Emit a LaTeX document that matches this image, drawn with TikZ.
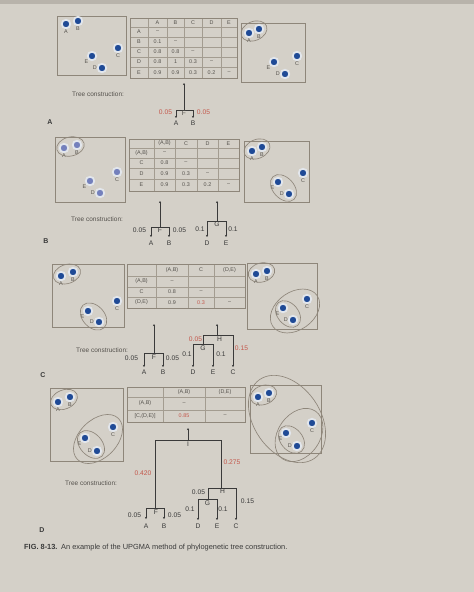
\documentclass[tikz,border=0pt]{standalone}
\usepackage{fontspec}
\setmainfont{Liberation Sans}
\usetikzlibrary{arrows.meta}
\definecolor{bg}{HTML}{D4D0C8}
\definecolor{edge}{HTML}{B8B3AB}
\definecolor{frame}{HTML}{8E867A}
\definecolor{gridc}{HTML}{A39C90}
\definecolor{ink}{HTML}{3A3A3A}
\definecolor{greyt}{HTML}{55524D}
\definecolor{redlab}{HTML}{C4584C}
\definecolor{dotblue}{HTML}{1F4A96}
\definecolor{halo}{HTML}{E2E6EC}
\definecolor{fadeblue}{HTML}{7480BC}
\tikzset{
  boxn/.style={draw=frame, line width=0.8pt, rectangle, inner sep=0pt, anchor=north west},
  clus/.style={draw=frame, line width=0.65pt},
  tgrid/.style={draw=gridc, line width=0.5pt},
  tframe/.style={draw=frame, line width=0.7pt},
  tline/.style={draw=ink, line width=0.7pt},
  leaf/.style={tline, -{Stealth[length=2.2pt,width=2.2pt]}},
  root/.style={tline, {Stealth[length=2.2pt,width=2.2pt]}-},
  lab/.style={font=\fontsize{6.7}{7}\selectfont, text=ink, inner sep=0pt},
  rlab/.style={lab, text=redlab},
  tcell/.style={font=\fontsize{5.4}{6}\selectfont, text=greyt, inner sep=0pt},
  rcell/.style={tcell, text=redlab},
  dlab/.style={font=\fontsize{5.4}{6}\selectfont, text=greyt, inner sep=0pt},
  dotn/.style={circle, fill=dotblue, draw=halo, line width=1.8pt, minimum size=8.5pt, inner sep=0pt, label distance=0.4pt},
  fdot/.style={dotn, fill=fadeblue, draw=halo},
  sect/.style={font=\fontsize{7}{8}\selectfont\bfseries, text=ink, inner sep=0pt},
  tc/.style={font=\fontsize{6.5}{7}\selectfont, text=greyt, inner sep=0pt, anchor=west}
}
\newcommand\clusell[5]{\draw[clus,shift={(#1,#2)},rotate=#3] (0,0) ellipse [x radius=#4, y radius=#5];}
\begin{document}
\begin{tikzpicture}[x=1pt,y=-1pt]
\useasboundingbox (0,0) rectangle (474,592);
\fill[bg] (0,0) rectangle (474,592);
\fill[edge] (0,0) rectangle (474,4);

% ================= ROW A =================
\node[boxn, minimum width=69pt, minimum height=59pt] (bA1) at (57,16) {};
\node[dotn,label={[dlab]below:A}] (a1A) at (66,24) {};
\node[dotn,label={[dlab]below:B}] (a1B) at (78,21) {};
\node[dotn,label={[dlab]below:C}] (a1C) at (118,48) {};
\node[dotn,label={[dlab]below left:E}] (a1E) at (92,56) {};
\node[dotn,label={[dlab]left:D}] (a1D) at (102,68) {};

\draw[tgrid] (130,27) -- (237,27) (130,37) -- (237,37) (130,47) -- (237,47) (130,57) -- (237,57) (130,67) -- (237,67);
\draw[tgrid] (148,18) -- (148,78) (167,18) -- (167,78) (184,18) -- (184,78) (202,18) -- (202,78) (221,18) -- (221,78);
\draw[tframe] (130,18) rectangle (237,78);
\foreach \x/\t [count=\i] in {157.5/A,175.5/B,193/C,211.5/D,229/E} \node[tcell] (tAh\i) at (\x,22.5) {\t};
\foreach \y/\t [count=\i] in {32/A,42/B,52/C,62/D,72.5/E} \node[tcell] (tAr\i) at (139,\y) {\t};
\node[tcell] (tA11) at (157.5,32) {–};
\node[tcell] (tA21) at (157.5,42) {0.1};
\node[tcell] (tA22) at (175.5,42) {–};
\node[tcell] (tA31) at (157.5,52) {0.8};
\node[tcell] (tA32) at (175.5,52) {0.8};
\node[tcell] (tA33) at (193,52) {–};
\node[tcell] (tA41) at (157.5,62) {0.8};
\node[tcell] (tA42) at (175.5,62) {1};
\node[tcell] (tA43) at (193,62) {0.3};
\node[tcell] (tA44) at (211.5,62) {–};
\node[tcell] (tA51) at (157.5,72.5) {0.9};
\node[tcell] (tA52) at (175.5,72.5) {0.9};
\node[tcell] (tA53) at (193,72.5) {0.3};
\node[tcell] (tA54) at (211.5,72.5) {0.2};
\node[tcell] (tA55) at (229,72.5) {–};

\node[boxn, minimum width=64pt, minimum height=59pt] (bA2) at (241,23) {};
\node[dotn,label={[dlab]below:A}] (a2A) at (249,33) {};
\node[dotn,label={[dlab]below:B}] (a2B) at (259,29) {};
\node[dotn,label={[dlab]below:C}] (a2C) at (297,56) {};
\node[dotn,label={[dlab]below left:E}] (a2E) at (274,62) {};
\node[dotn,label={[dlab]left:D}] (a2D) at (285,74) {};
\clusell{254}{31}{22}{13.5}{9.5}

\node[tc] (tcA) at (72,94) {Tree construction:};
\coordinate (tAroot) at (184,83);
\coordinate (tAF) at (184,110);
\coordinate (tAa) at (176,118);
\coordinate (tAb) at (193,118);
\draw[root] (tAroot) -- (tAF);
\draw[leaf] (tAF) -| (tAa);
\draw[leaf] (tAF) -| (tAb);
\node[lab] (lAa) at (176,123.5) {A};
\node[lab] (lAb) at (193,123.5) {B};
\node[rlab] (lAw1) at (165.5,112) {0.05};
\node[rlab] (lAw2) at (203.5,112) {0.05};
\node[lab, text=greyt] (lAF) at (184,113.5) {F};
\node[sect] (sA) at (50,122) {A};

% ================= ROW B =================
\node[boxn, minimum width=70pt, minimum height=65pt] (bB1) at (55,137) {};
\node[fdot,label={[dlab]below:A}] (b1A) at (64,148) {};
\node[fdot,label={[dlab]below:B}] (b1B) at (77,145) {};
\node[fdot,label={[dlab]below:C}] (b1C) at (117,172) {};
\node[fdot,label={[dlab]below left:E}] (b1E) at (90,181) {};
\node[fdot,label={[dlab]left:D}] (b1D) at (100,193) {};
\clusell{70.5}{146.5}{13}{14}{9.5}

\draw[tgrid] (129,148) -- (239,148) (129,158) -- (239,158) (129,168) -- (239,168) (129,179) -- (239,179);
\draw[tgrid] (154,139) -- (154,191) (175,139) -- (175,191) (197,139) -- (197,191) (218,139) -- (218,191);
\draw[tframe] (129,139) rectangle (239,191);
\foreach \x/\t [count=\i] in {164.5/{(A,B)},186/C,207.5/D,228.5/E} \node[tcell] (tBh\i) at (\x,143.5) {\t};
\foreach \y/\t [count=\i] in {153/{(A,B)},163/C,173.5/D,185/E} \node[tcell] (tBr\i) at (141.5,\y) {\t};
\node[tcell] (tB11) at (164.5,153) {–};
\node[tcell] (tB21) at (164.5,163) {0.8};
\node[tcell] (tB22) at (186,163) {–};
\node[tcell] (tB31) at (164.5,173.5) {0.9};
\node[tcell] (tB32) at (186,173.5) {0.3};
\node[tcell] (tB33) at (207.5,173.5) {–};
\node[tcell] (tB41) at (164.5,185) {0.9};
\node[tcell] (tB42) at (186,185) {0.3};
\node[tcell] (tB43) at (207.5,185) {0.2};
\node[tcell] (tB44) at (228.5,185) {–};

\node[boxn, minimum width=65pt, minimum height=61pt] (bB2) at (244,141) {};
\node[dotn,label={[dlab]below:A}] (b2A) at (252,151) {};
\node[dotn,label={[dlab]below:B}] (b2B) at (262,147) {};
\node[dotn,label={[dlab]below:C}] (b2C) at (303,173) {};
\node[dotn,label={[dlab]below left:E}] (b2E) at (278,182) {};
\node[dotn,label={[dlab]left:D}] (b2D) at (289,194) {};
\clusell{257}{149}{22}{13.5}{9.5}
\clusell{283.5}{188}{-47}{15.5}{10.5}

\node[tc] (tcB) at (71,219) {Tree construction:};
\coordinate (tBFr) at (160,201);
\coordinate (tBF) at (160,227);
\coordinate (tBa) at (151,237);
\coordinate (tBb) at (169,237);
\draw[root] (tBFr) -- (tBF);
\draw[leaf] (tBF) -| (tBa);
\draw[leaf] (tBF) -| (tBb);
\node[lab] (lBa) at (151,243) {A};
\node[lab] (lBb) at (169,243) {B};
\node[lab] (lBw1) at (139.5,230) {0.05};
\node[lab] (lBw2) at (179.5,230) {0.05};
\node[lab] (lBF) at (160,230.5) {F};
\coordinate (tBGr) at (217,201);
\coordinate (tBG) at (217,221);
\coordinate (tBd) at (207,237);
\coordinate (tBe) at (226,237);
\draw[root] (tBGr) -- (tBG);
\draw[leaf] (tBG) -| (tBd);
\draw[leaf] (tBG) -| (tBe);
\node[lab] (lBd) at (207,243) {D};
\node[lab] (lBe) at (226,243) {E};
\node[lab] (lBw3) at (200,229) {0.1};
\node[lab] (lBw4) at (233,229) {0.1};
\node[lab] (lBG) at (217,224.5) {G};
\node[sect] (sB) at (46,241) {B};

% ================= ROW C =================
\node[boxn, minimum width=72pt, minimum height=63pt] (bC1) at (52,264) {};
\node[dotn,label={[dlab]below:A}] (c1A) at (61,276) {};
\node[dotn,label={[dlab]below:B}] (c1B) at (73,272) {};
\node[dotn,label={[dlab]below:C}] (c1C) at (117,301) {};
\node[dotn,label={[dlab]below left:E}] (c1E) at (88,311) {};
\node[dotn,label={[dlab]left:D}] (c1D) at (99,322) {};
\clusell{67}{274}{18}{14}{9.5}
\clusell{93.5}{316.5}{-47}{15.5}{11}

\draw[tgrid] (127,276) -- (245,276) (127,287) -- (245,287) (127,297) -- (245,297);
\draw[tgrid] (156,264) -- (156,308) (188,264) -- (188,308) (214,264) -- (214,308);
\draw[tframe] (127,264) rectangle (245,308);
\foreach \x/\t [count=\i] in {172/{(A,B)},201/C,229.5/{(D,E)}} \node[tcell] (tCh\i) at (\x,270) {\t};
\foreach \y/\t [count=\i] in {281.5/{(A,B)},292/C,302.5/{(D,E)}} \node[tcell] (tCr\i) at (141.5,\y) {\t};
\node[tcell] (tC11) at (172,281.5) {–};
\node[tcell] (tC21) at (172,292) {0.8};
\node[tcell] (tC22) at (201,292) {–};
\node[tcell] (tC31) at (172,302.5) {0.9};
\node[rcell] (tC32) at (201,302.5) {0.3};
\node[tcell] (tC33) at (229.5,302.5) {–};

\node[boxn, minimum width=70pt, minimum height=66pt] (bC2) at (247,263) {};
\node[dotn,label={[dlab]below:A}] (c2A) at (256,274) {};
\node[dotn,label={[dlab]below:B}] (c2B) at (267,271) {};
\node[dotn,label={[dlab]below:C}] (c2C) at (307,299) {};
\node[dotn,label={[dlab]below left:E}] (c2E) at (283,308) {};
\node[dotn,label={[dlab]left:D}] (c2D) at (293,320) {};
\clusell{261.5}{272.5}{15}{13.5}{9.5}
\clusell{288}{314}{-50}{15}{10.5}
\clusell{295}{311}{35}{27}{19}

\node[tc] (tcC) at (76,350) {Tree construction:};
\coordinate (tCFr) at (154,324);
\coordinate (tCF) at (154,353);
\coordinate (tCa) at (144,367);
\coordinate (tCb) at (163,367);
\draw[root] (tCFr) -- (tCF);
\draw[leaf] (tCF) -| (tCa);
\draw[leaf] (tCF) -| (tCb);
\node[lab] (lCa) at (144,372) {A};
\node[lab] (lCb) at (163,372) {B};
\node[lab] (lCw1) at (131.5,358) {0.05};
\node[lab] (lCw2) at (172.5,358) {0.05};
\node[lab] (lCF) at (154,357) {F};
\coordinate (tCHr) at (217,324);
\coordinate (tCH) at (217,335);
\coordinate (tCG) at (203,344);
\coordinate (tCd) at (193,367);
\coordinate (tCe) at (213,367);
\coordinate (tCc) at (233,367);
\draw[root] (tCHr) -- (tCH);
\draw[tline] (tCH) -| (tCG);
\draw[leaf] (tCH) -| (tCc);
\draw[leaf] (tCG) -| (tCd);
\draw[leaf] (tCG) -| (tCe);
\node[lab] (lCd) at (193,372) {D};
\node[lab] (lCe) at (213,372) {E};
\node[lab] (lCc) at (233,372) {C};
\node[rlab] (lCw3) at (195.5,339) {0.05};
\node[lab] (lCH) at (219.5,339) {H};
\node[lab] (lCG) at (203,348) {G};
\node[lab] (lCw4) at (187,354) {0.1};
\node[lab] (lCw5) at (221,354) {0.1};
\node[rlab] (lCw6) at (241.5,348) {0.15};
\node[sect] (sC) at (43,375) {C};

% ================= ROW D =================
\node[boxn, minimum width=73pt, minimum height=73pt] (bD1) at (50,388) {};
\node[dotn,label={[dlab]below:A}] (d1A) at (58,402) {};
\node[dotn,label={[dlab]below:B}] (d1B) at (70,397) {};
\node[dotn,label={[dlab]below:C}] (d1C) at (113,427) {};
\node[dotn,label={[dlab]below left:E}] (d1E) at (85,438) {};
\node[dotn,label={[dlab]left:D}] (d1D) at (97,451) {};
\clusell{64}{399.5}{22}{14}{9.5}
\clusell{91}{444.5}{-47}{16}{11}
\clusell{98}{439}{45}{29}{19}

\draw[tgrid] (127,397) -- (245,397) (127,410) -- (245,410);
\draw[tgrid] (163,387) -- (163,422) (205,387) -- (205,422);
\draw[tframe] (127,387) rectangle (245,422);
\node[tcell] (tDh1) at (184,392) {(A,B)};
\node[tcell] (tDh2) at (225,392) {(D,E)};
\node[tcell] (tDr1) at (145,403.5) {(A,B)};
\node[tcell] (tDr2) at (145,416) {[C,(D,E)]};
\node[tcell] (tD11) at (184,403.5) {–};
\node[rcell] (tD21) at (184,416) {0.85};
\node[tcell] (tD22) at (225,416) {–};

\node[boxn, minimum width=71pt, minimum height=68pt] (bD2) at (250,385) {};
\node[dotn,label={[dlab]below:A}] (d2A) at (258,397) {};
\node[dotn,label={[dlab]below:B}] (d2B) at (269,393) {};
\node[dotn,label={[dlab]below:C}] (d2C) at (312,423) {};
\node[dotn,label={[dlab]below left:E}] (d2E) at (286,433) {};
\node[dotn,label={[dlab]left:D}] (d2D) at (297,446) {};
\clusell{263.5}{395}{20}{13.5}{9.5}
\clusell{291.5}{439.5}{-50}{15.5}{11}
\clusell{299}{435}{55}{29}{21}
\clusell{287}{419}{-55}{48}{33}

\node[tc] (tcD) at (65,483) {Tree construction:};
\coordinate (tDr) at (188,428);
\coordinate (tDI) at (188,440);
\coordinate (tDF) at (155,508);
\coordinate (tDa) at (146,519);
\coordinate (tDb) at (164,519);
\coordinate (tDH) at (221,488);
\coordinate (tDG) at (208,499);
\coordinate (tDd) at (198,520);
\coordinate (tDe) at (217,520);
\coordinate (tDc) at (236,520);
\draw[root] (tDr) -- (tDI);
\draw[tline] (tDI) -| (tDF);
\draw[tline] (tDI) -| (tDH);
\draw[leaf] (tDF) -| (tDa);
\draw[leaf] (tDF) -| (tDb);
\draw[tline] (tDH) -| (tDG);
\draw[leaf] (tDH) -| (tDc);
\draw[leaf] (tDG) -| (tDd);
\draw[leaf] (tDG) -| (tDe);
\node[lab] (lDI) at (188,444) {I};
\node[rlab] (lDw1) at (143,473) {0.420};
\node[rlab] (lDw2) at (232,462) {0.275};
\node[lab] (lDw3) at (198.5,492) {0.05};
\node[lab] (lDH) at (222.5,491.5) {H};
\node[lab] (lDG) at (207.5,503) {G};
\node[lab] (lDw4) at (190,509) {0.1};
\node[lab] (lDw5) at (223,509) {0.1};
\node[lab] (lDw6) at (247.5,501) {0.15};
\node[lab] (lDw7) at (134.5,515) {0.05};
\node[lab] (lDw8) at (174.5,515) {0.05};
\node[lab] (lDF) at (156,512) {F};
\node[lab] (lDa) at (146,526) {A};
\node[lab] (lDb) at (164,526) {B};
\node[lab] (lDd) at (198,526) {D};
\node[lab] (lDe) at (217,526) {E};
\node[lab] (lDc) at (236,526) {C};
\node[sect] (sD) at (42,530) {D};

\node[font=\fontsize{7.4}{8}\selectfont, text=ink, inner sep=0pt, anchor=west] (cap) at (24,548) {{\bfseries FIG. 8-13.}\enspace An example of the UPGMA method of phylogenetic tree construction.};
\end{tikzpicture}
\end{document}
